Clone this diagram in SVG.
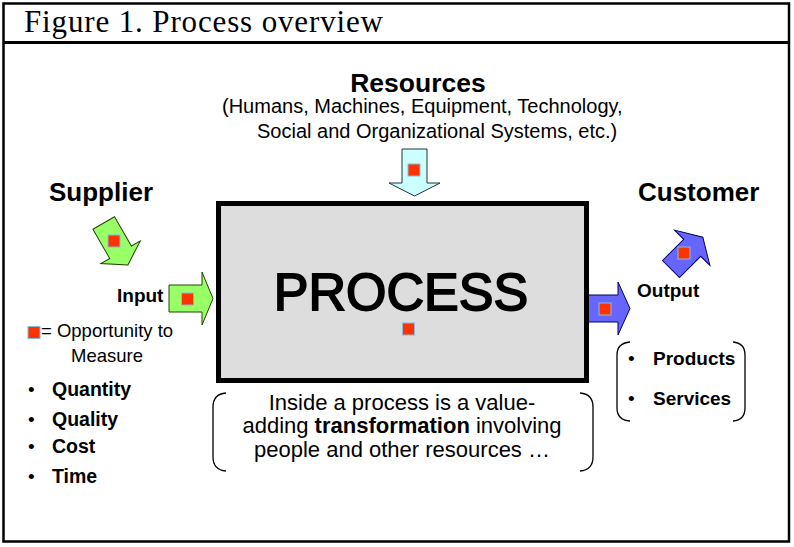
<svg xmlns="http://www.w3.org/2000/svg" width="794" height="547" viewBox="0 0 794 547">
<style>
.sans{font-family:"Liberation Sans",Arial,sans-serif;fill:#000}
.b{font-weight:bold}
.sq{fill:#ff3300;stroke:#88bbdd;stroke-width:1}
.grn{fill:#99ff66;stroke:#224400;stroke-width:1}
.cyn{fill:#ccffff;stroke:#223333;stroke-width:1}
.blu{fill:#6666ff;stroke:#000066;stroke-width:1}
.brk{fill:none;stroke:#000;stroke-width:1.3}
.heavy{stroke:#000;stroke-width:1.8}
</style>
<rect x="0" y="0" width="794" height="547" fill="#fff"/>
<g id="frame">
<rect x="3.5" y="3.5" width="785.5" height="538" fill="none" stroke="#000" stroke-width="2.5"/>
<line x1="3" y1="42.5" x2="789" y2="42.5" stroke="#000" stroke-width="3"/>
<text x="24" y="32" font-family="'Liberation Serif','Times New Roman',serif" font-size="31" textLength="359" lengthAdjust="spacing">Figure 1. Process overview</text>
</g>
<g id="connectors">
<polygon class="cyn" points="402,149 427,149 427,183 440,183 414.5,196 389,183 402,183"/>
<polygon class="grn" transform="translate(103.7,223) rotate(60)" points="0,-12.5 33.8,-12.5 33.8,-22.7 48.4,0 33.8,22.7 33.8,12.5 0,12.5"/>
<polygon class="grn" points="169,285 202,285 202,272 213,298.5 202,325 202,312 169,312"/>
<polygon class="blu" points="587,295 618,295 618,282 630,308.5 618,335 618,322 587,322"/>
<polygon class="blu" transform="translate(671,269) rotate(-45)" points="0,-12 30,-12 30,-25 45,0 30,25 30,12 0,12"/>
<rect class="sq" x="408" y="164" width="12" height="12"/>
<rect class="sq" x="108" y="235" width="12" height="12"/>
<rect class="sq" x="181.5" y="293" width="12" height="12"/>
<rect class="sq" x="599" y="303" width="12" height="12"/>
<rect class="sq" x="678" y="247" width="12" height="12"/>
</g>
<g id="resources">
<text class="sans b" x="418" y="92" font-size="26.5" text-anchor="middle">Resources</text>
<text class="sans" x="222" y="113" font-size="20">(Humans, Machines, Equipment, Technology,</text>
<text class="sans" x="257" y="138" font-size="20">Social and Organizational Systems, etc.)</text>
</g>
<g id="supplier">
<text class="sans b" x="49" y="201" font-size="26">Supplier</text>
</g>
<g id="input">
<text class="sans b" x="117" y="302" font-size="19">Input</text>
</g>
<g id="process">
<rect x="218.5" y="203.5" width="368" height="177" fill="#dddddd" stroke="#000" stroke-width="5"/>
<text class="sans heavy" x="401" y="310" font-size="52" text-anchor="middle">PROCESS</text>
<rect class="sq" x="402.5" y="323" width="12" height="12"/>
</g>
<g id="transformation-note">
<path class="brk" d="M226,393 Q213,394 213,407 L213,457 Q213,470 226,471"/>
<path class="brk" d="M580,393 Q593,394 593,407 L593,457 Q593,470 580,471"/>
<text class="sans" x="402" y="410" font-size="22" text-anchor="middle">Inside a process is a value-</text>
<text class="sans" x="402" y="433" font-size="22" text-anchor="middle">adding <tspan class="b">transformation</tspan> involving</text>
<text class="sans" x="402" y="457" font-size="22" text-anchor="middle">people and other resources …</text>
</g>
<g id="legend">
<rect class="sq" x="28" y="326.5" width="12" height="12"/>
<text class="sans" x="41" y="337" font-size="18.5">= Opportunity to</text>
<text class="sans" x="107" y="362" font-size="18.5" text-anchor="middle">Measure</text>
</g>
<g id="measures">
<text class="sans" x="28" y="396" font-size="19">•</text>
<text class="sans b" x="52" y="396" font-size="19.5">Quantity</text>
<text class="sans" x="28" y="426" font-size="19">•</text>
<text class="sans b" x="52" y="426" font-size="19.5">Quality</text>
<text class="sans" x="28" y="453" font-size="19">•</text>
<text class="sans b" x="52" y="453" font-size="19.5">Cost</text>
<text class="sans" x="28" y="483" font-size="19">•</text>
<text class="sans b" x="52" y="483" font-size="19.5">Time</text>
</g>
<g id="output">
<text class="sans b" x="637" y="297" font-size="19">Output</text>
</g>
<g id="customer">
<text class="sans b" x="638" y="201" font-size="26">Customer</text>
</g>
<g id="outputs-list">
<path class="brk" d="M630,342 Q617,343 617,355 L617,408 Q617,420 630,421"/>
<path class="brk" d="M733,342 Q745,343 745,355 L745,408 Q745,420 733,421"/>
<text class="sans" x="628" y="365" font-size="19">•</text>
<text class="sans b" x="653" y="365" font-size="19">Products</text>
<text class="sans" x="628" y="405" font-size="19">•</text>
<text class="sans b" x="653" y="405" font-size="19">Services</text>
</g>
</svg>
